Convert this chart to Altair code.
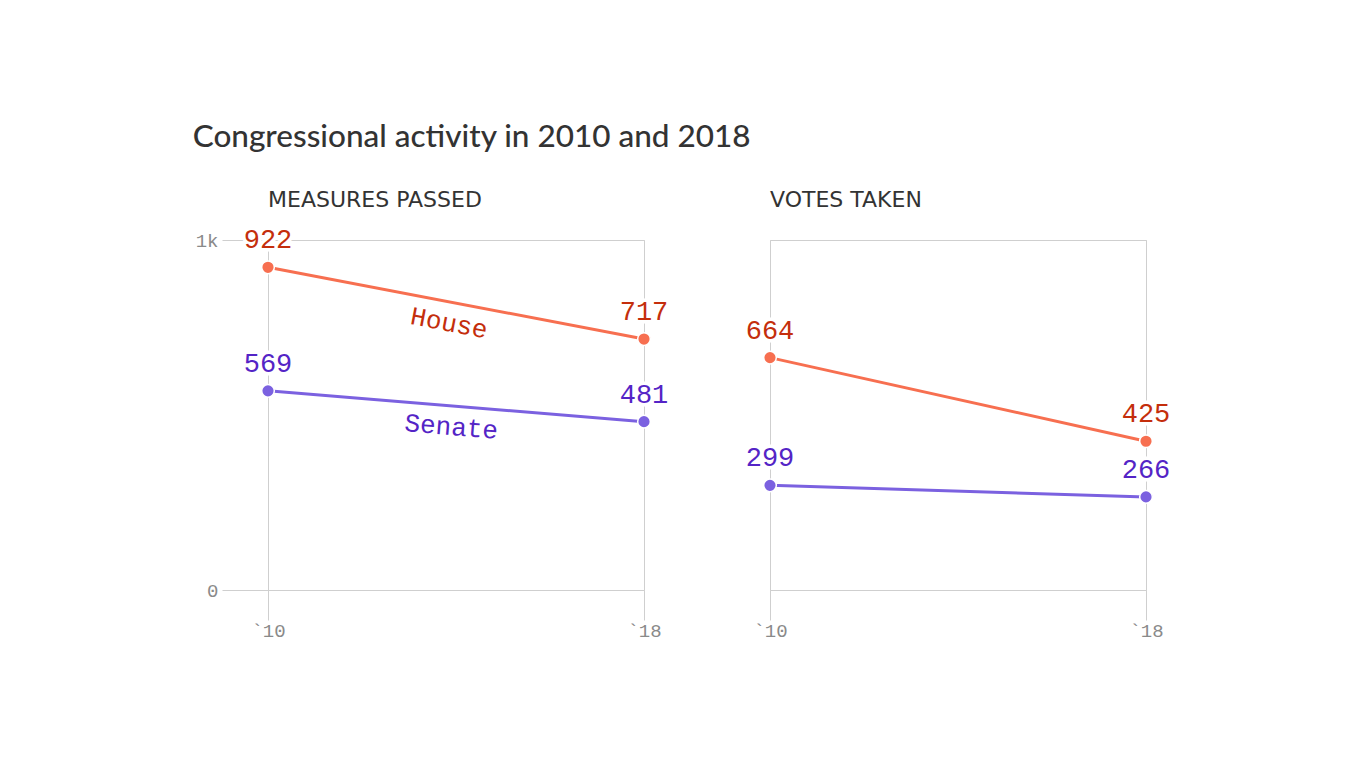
import math
import altair as alt
import pandas as pd

# ---------------- data ----------------
years = [2010, 2018]
chambers = ["House", "Senate"]
panel_titles = ["MEASURES PASSED", "VOTES TAKEN"]
measures_house = [922, 717]
measures_senate = [569, 481]
votes_house = [664, 425]
votes_senate = [299, 266]
y_ticks = [0, 1000]

# ---------------- style ----------------
line_colors = ["#f76f50", "#7b61e0"]
text_colors = ["#c42e0c", "#5424c6"]
GRID = "#cfcfcf"
MONO = "Liberation Mono"
W, H = 376, 350


def make_df(house, senate):
    rows = []
    for ch, vals in zip(chambers, [house, senate]):
        for yr, v in zip(years, vals):
            rows.append({"year": yr, "value": v, "chamber": ch})
    return pd.DataFrame(rows)


def label_df(house, senate):
    rows = []
    for ch, vals in zip(chambers, [house, senate]):
        ang = math.degrees(math.atan((vals[0] - vals[1]) / (y_ticks[1] - y_ticks[0]) * H / W))
        rows.append({"year": sum(years) / 2, "value": sum(vals) / 2, "chamber": ch, "angle": ang})
    return pd.DataFrame(rows)


text_color = alt.condition(alt.datum.chamber == chambers[0],
                           alt.value(text_colors[0]), alt.value(text_colors[1]))


def panel(house, senate, title, left, title_offset):
    df = make_df(house, senate)
    x = alt.X("year:Q",
              scale=alt.Scale(domain=years, nice=False, zero=False),
              axis=alt.Axis(values=years, labelExpr="'`' + (datum.value % 100)", title=None,
                            grid=True, gridColor=GRID, tickSize=30, tickColor=GRID,
                            domain=False, labelFont=MONO, labelFontSize=19, labelFlush=False,
                            labelColor="#8a8a8a", labelPadding=1))
    if left:
        yaxis = alt.Axis(values=y_ticks, labelExpr="datum.value >= 1000 ? '1k' : '0'",
                         title=None, grid=True, gridColor=GRID, tickSize=46, labelFlush=False,
                         tickColor=GRID, domain=False, labelFont=MONO, labelFontSize=19,
                         labelColor="#8a8a8a", labelPadding=4)
    else:
        yaxis = alt.Axis(values=y_ticks, title=None, grid=True, gridColor=GRID,
                         ticks=False, labels=False, domain=False, minExtent=0)
    y = alt.Y("value:Q", scale=alt.Scale(domain=y_ticks, nice=False), axis=yaxis)
    color = alt.Color("chamber:N", scale=alt.Scale(domain=chambers, range=line_colors), legend=None)

    base = alt.Chart(df).encode(x=x, y=y)
    line = base.mark_line(strokeWidth=3).encode(color=color)
    pts = base.mark_circle(size=160, opacity=1, stroke="white", strokeWidth=1.5).encode(color=color)
    halo = base.mark_text(dy=-27, fontSize=27, font=MONO, stroke="white",
                          strokeWidth=7, fill="white").encode(text="value:Q")
    txt = base.mark_text(dy=-27, fontSize=27, font=MONO).encode(text="value:Q", color=text_color)
    layers = [line, pts, halo, txt]
    if left:
        lab = alt.Chart(label_df(house, senate)).mark_text(
            font=MONO, fontSize=26, dy=21, dx=-3, baseline="middle").encode(
            x="year:Q", y="value:Q", text="chamber:N",
            angle=alt.Angle("angle:Q", scale=None), color=text_color)
        layers.append(lab)
    return alt.layer(*layers).properties(
        width=W, height=H,
        title=alt.TitleParams(title, anchor="start", frame="group", fontSize=22,
                              font="DejaVu Sans", color="#333333", fontWeight="normal",
                              offset=title_offset))


left = panel(measures_house, measures_senate, panel_titles[0], True, 14)
right = panel(votes_house, votes_senate, panel_titles[1], False, 28)

chart = alt.hconcat(left, right, spacing=126, bounds="flush").properties(
    title=alt.TitleParams("Congressional activity in 2010 and 2018", anchor="start",
                          fontSize=31.5, font="Lato", color="#333333", fontWeight=500,
                          dx=-2, offset=35),
    padding={"left": 184, "top": 114, "right": 20, "bottom": 20},
).configure_view(stroke=None).configure(background="white")

chart.save("out.html", embed_options={"renderer": "svg", "actions": False})
